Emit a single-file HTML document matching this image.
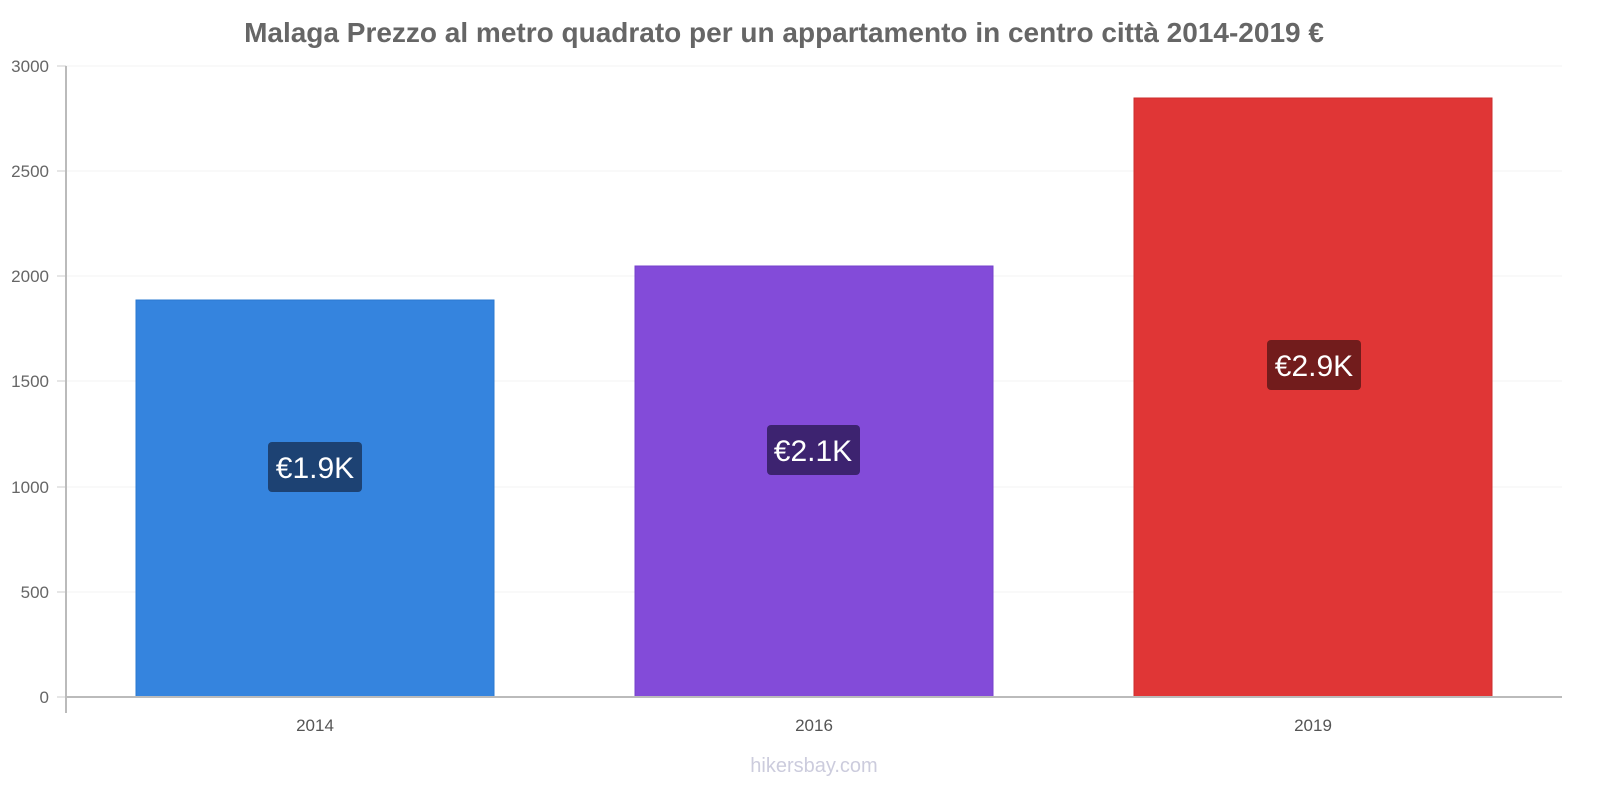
<!DOCTYPE html>
<html><head><meta charset="utf-8"><style>
body{margin:0;background:#fff;font-family:"Liberation Sans",sans-serif;}
</style></head><body>
<svg width="1600" height="800" xmlns="http://www.w3.org/2000/svg" font-family="Liberation Sans, sans-serif">
<rect width="1600" height="800" fill="#fff"/>
<text x="784" y="42" text-anchor="middle" font-size="28" font-weight="bold" fill="#666">Malaga Prezzo al metro quadrato per un appartamento in centro città 2014-2019 €</text>
<g stroke="#f3f3f3" stroke-width="1">
<line x1="66" x2="1562" y1="66" y2="66"/><line x1="66" x2="1562" y1="171" y2="171"/>
<line x1="66" x2="1562" y1="276" y2="276"/><line x1="66" x2="1562" y1="381" y2="381"/>
<line x1="66" x2="1562" y1="487" y2="487"/><line x1="66" x2="1562" y1="592" y2="592"/>
</g>
<g font-size="17" fill="#666" text-anchor="end">
<text x="49" y="72">3000</text><text x="49" y="177">2500</text><text x="49" y="282">2000</text>
<text x="49" y="387">1500</text><text x="49" y="493">1000</text><text x="49" y="598">500</text><text x="49" y="703">0</text>
</g>
<g stroke="#ccc"><line x1="57" x2="66" y1="66" y2="66"/><line x1="57" x2="66" y1="171" y2="171"/><line x1="57" x2="66" y1="276" y2="276"/><line x1="57" x2="66" y1="381" y2="381"/><line x1="57" x2="66" y1="487" y2="487"/><line x1="57" x2="66" y1="592" y2="592"/><line x1="57" x2="66" y1="697" y2="697"/></g>
<rect x="136" y="300" width="358" height="397" fill="#3584de" stroke="#2a78d0"/>
<rect x="635" y="266" width="358" height="431" fill="#834bd9" stroke="#7640cc"/>
<rect x="1134" y="98" width="358" height="599" fill="#e03636" stroke="#cc2e2e"/>
<line x1="66" x2="66" y1="66" y2="713" stroke="#bbb" stroke-width="2"/>
<line x1="66" x2="1562" y1="697" y2="697" stroke="#bbb" stroke-width="2"/>
<rect x="268" y="442" width="94" height="50" rx="4" fill="#1d4273"/>
<text x="315" y="478" text-anchor="middle" font-size="30" fill="#fff">€1.9K</text>
<rect x="767" y="425" width="93" height="50" rx="4" fill="#3d2370"/>
<text x="813" y="461" text-anchor="middle" font-size="30" fill="#fff">€2.1K</text>
<rect x="1267" y="340" width="94" height="50" rx="4" fill="#721c1c"/>
<text x="1314" y="376" text-anchor="middle" font-size="30" fill="#fff">€2.9K</text>
<g font-size="17" fill="#555" text-anchor="middle">
<text x="315" y="731">2014</text><text x="814" y="731">2016</text><text x="1313" y="731">2019</text>
</g>
<text x="814" y="772" text-anchor="middle" font-size="20" fill="#ccd">hikersbay.com</text>
</svg>
</body></html>
